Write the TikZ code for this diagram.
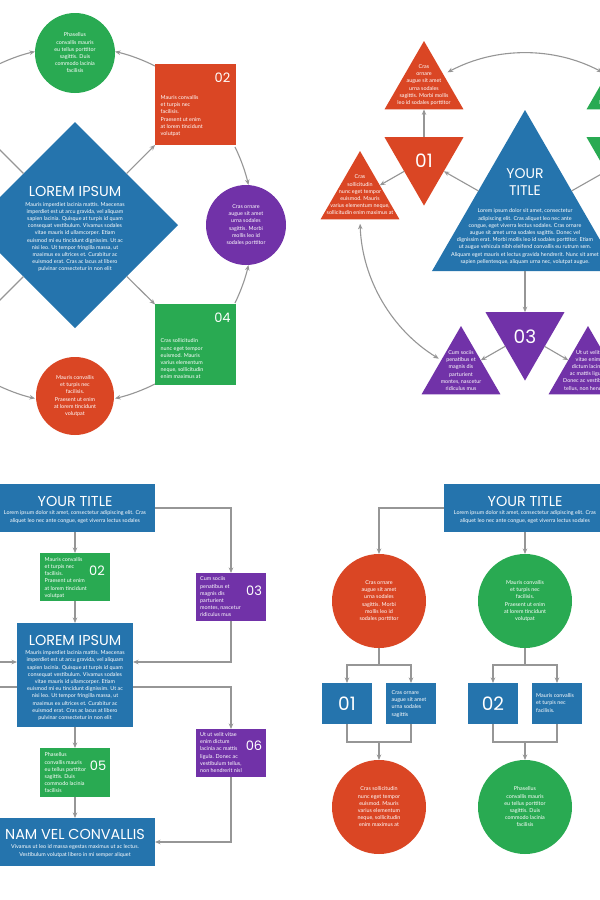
\documentclass[tikz,border=0pt]{standalone}
\usepackage{fontspec}
\setmainfont{Lato}
\newfontfamily\ttlfont{Poppins}
\usetikzlibrary{arrows.meta,shapes.geometric}
\definecolor{cblue}{RGB}{37,116,173}
\definecolor{cred}{RGB}{218,70,36}
\definecolor{cgreen}{RGB}{41,170,82}
\definecolor{cpurple}{RGB}{113,50,168}
\definecolor{cgray}{RGB}{150,150,150}
\tikzset{
  body/.style={text=white, font=\fontsize{5.4}{7.2}\selectfont, inner sep=0pt, align=center},
  bodyl/.style={body, align=left, anchor=west},
  ttl/.style={text=white, font=\ttlfont\fontsize{14.4}{17}\selectfont, inner sep=0pt, align=center},
  num/.style={text=white, font=\ttlfont\fontsize{13}{13}\selectfont, inner sep=0pt},
  bignum/.style={text=white, font=\ttlfont\fontsize{18.5}{18.5}\selectfont, inner sep=0pt},
  conn/.style={draw=cgray, line width=1.1pt, -{Stealth[length=5.5pt,width=4.5pt]}},
  bconn/.style={draw=cgray, line width=1.1pt, {Stealth[length=5.5pt,width=4.5pt]}-{Stealth[length=5.5pt,width=4.5pt]}},
  plain/.style={draw=cgray, line width=1.1pt},
  disc/.style={circle, inner sep=0pt, outer sep=0pt, minimum size=#1},
  box/.style 2 args={rectangle, inner sep=0pt, outer sep=0pt, minimum width=#1, minimum height=#2},
  tri/.style={regular polygon, regular polygon sides=3, inner sep=0pt, outer sep=0pt, minimum size=#1},
  itri/.style={tri=#1, shape border rotate=180},
}
\begin{document}
\begin{tikzpicture}[x=1pt,y=-1pt]
\useasboundingbox (0,0) rectangle (600,900);
\clip (0,0) rectangle (600,900);
\fill[white] (0,0) rectangle (600,900);

% ================= top-left: ring around a diamond
\coordinate (ringA) at (75,225);
\draw[conn] ([shift={(-63:178)}]ringA) arc[start angle=-63, end angle=-77, radius=178];
\draw[conn] ([shift={(-26:178)}]ringA) arc[start angle=-26, end angle=-13, radius=178];
\draw[conn] ([shift={(26:178)}]ringA) arc[start angle=26, end angle=13, radius=178];
\draw[conn] ([shift={(63:178)}]ringA) arc[start angle=63, end angle=77, radius=178];
\draw[conn] ([shift={(-117:178)}]ringA) arc[start angle=-117, end angle=-103, radius=178];
\draw[conn] ([shift={(117:178)}]ringA) arc[start angle=117, end angle=103, radius=178];

\node[disc=80, fill=cgreen, body] (gc) at (75,53) {Phasellus\\convallis mauris\\eu tellus porttitor\\sagittis. Duis\\commodo lacinia\\facilisis};
\node[disc=80, fill=cpurple, body] (pc) at (246,225) {Cras ornare\\augue sit amet\\urna sodales\\sagittis. Morbi\\mollis leo id\\sodales porttitor};
\node[disc=78, fill=cred, body] (rc) at (75,396) {Mauris convallis\\et turpis nec\\facilisis.\\Praesent ut enim\\at lorem tincidunt\\volutpat};
\node[box={81}{81}, fill=cred] (s02) at (195.5,104.5) {};
\node[num] (n02) at (222.5,78) {02};
\node[bodyl] (t02) at (160.5,116) {Mauris convallis\\et turpis nec\\facilisis.\\Praesent ut enim\\at lorem tincidunt\\volutpat};
\node[box={81}{81}, fill=cgreen] (s04) at (195.5,344.5) {};
\node[num] (n04) at (222.5,318) {04};
\node[bodyl] (t04) at (160.5,359) {Cras sollicitudin\\nunc eget tempor\\euismod. Mauris\\varius elementum\\neque, sollicitudin\\enim maximus at};
\node[diamond, aspect=1, minimum width=206, minimum height=206, inner sep=0pt, outer sep=0pt, fill=cblue] (dm) at (75,225) {};
\node[ttl] (dmt) at (75,191) {LOREM IPSUM};
\node[body] (dmp) at (75,237) {Mauris imperdiet lacinia mattis. Maecenas\\imperdiet est ut arcu gravida, vel aliquam\\sapien lacinia. Quisque at turpis id quam\\consequat vestibulum. Vivamus sodales\\vitae mauris id ullamcorper. Etiam\\euismod mi eu tincidunt dignissim. Ut ac\\nisi leo. Ut tempor fringilla massa, ut\\maximus ex ultrices et. Curabitur ac\\euismod erat. Cras ac lacus at libero\\pulvinar consectetur in non elit};
\coordinate (sq8) at (-5.5,144.5);
\coordinate (sq6) at (-5.5,305.5);
\draw[conn] (dm) -- (s02);
\draw[conn] (dm) -- (s04);
\draw[conn] (dm) -- (sq8);
\draw[conn] (dm) -- (sq6);

% ================= top-right: triangles
\coordinate (ringB) at (525,218);
\draw[bconn] ([shift={(-62:165)}]ringB) arc[start angle=-62, end angle=-118, radius=165];
\draw[bconn] ([shift={(178:165)}]ringB) arc[start angle=178, end angle=121.5, radius=165];

\node[tri=214.8, fill=cblue] (big) at (525,217.4) {};
\node[ttl, font=\ttlfont\fontsize{14}{17}\selectfont] (bigt) at (525,182) {YOUR\\TITLE};
\node[body] (bigp) at (525,236.5) {Lorem ipsum dolor sit amet, consectetur\\adipiscing elit. Cras aliquet leo nec ante\\congue, eget viverra lectus sodales. Cras ornare\\augue sit amet urna sodales sagittis. Donec vel\\dignissim erat. Morbi mollis leo id sodales porttitor. Etiam\\ut augue vehicula nibh eleifend convallis eu rutrum sem.\\Aliquam eget mauris et lectus gravida hendrerit. Nunc sit amet\\sapien pellentesque, aliquam urna nec, volutpat augue.};
\node[itri=91.2, fill=cred] (t01) at (424,160) {};
\node[bignum] (t01n) at (424,161) {01};
\node[tri=91.2, fill=cred] (ttop) at (424,86.6) {};
\node[body] (ttopt) at (424,85) {Cras\\ornare\\augue sit amet\\urna sodales\\sagittis. Morbi mollis\\leo id sodales porttitor};
\node[tri=91.2, fill=cred] (tleft) at (360,196.6) {};
\node[body] (tleftt) at (360,195) {Cras\\sollicitudin\\nunc eget tempor\\euismod. Mauris\\varius elementum neque,\\sollicitudin enim maximus at};
\node[itri=91.2, fill=cpurple] (t03) at (525,335) {};
\node[bignum] (t03n) at (525,337) {03};
\node[tri=91.2, fill=cpurple] (pl) at (461,371.6) {};
\node[body] (plt) at (461,370.5) {Cum sociis\\penatibus et\\magnis dis\\parturient\\montes, nascetur\\ridiculus mus};
\node[tri=91.2, fill=cpurple] (pr) at (588,371.6) {};
\node[body] (prt) at (588,370.5) {Ut ut velit\\vitae enim\\dictum lacinia\\ac mattis ligula.\\Donec ac vestibulum\\tellus, non hendrerit};
\node[itri=91.2, fill=cgreen] (g02) at (626,160) {};
\node[tri=91.2, fill=cgreen] (gtop) at (626,86.6) {};
\node[body] (gtopt) at (626,85) {Cras\\ornare\\augue sit amet\\urna sodales\\sagittis. Morbi mollis\\leo id sodales porttitor};
\draw[conn] (big) -- (t01);
\draw[conn] (t01) -- (ttop);
\draw[conn] (t01) -- (tleft);
\draw[conn] (big) -- (t03);
\draw[conn] (t03) -- (pl);
\draw[conn] (t03) -- (pr);
\draw[conn] (big) -- (g02);

% ================= bottom-left: boxes
\node[box={160}{48}, fill=cblue] (blt) at (75,508) {};
\node[ttl] (bltt) at (75,501) {YOUR TITLE};
\node[body] (bltp) at (75,517) {Lorem ipsum dolor sit amet, consectetur adipiscing elit. Cras\\aliquet leo nec ante congue, eget viverra lectus sodales};
\node[box={70}{48}, fill=cgreen] (b02) at (75,577) {};
\node[num] (b02n) at (97,571) {02};
\node[bodyl] (b02t) at (44.5,577.7) {Mauris convallis\\et turpis nec\\facilisis.\\Praesent ut enim\\at lorem tincidunt\\volutpat};
\node[box={116}{104}, fill=cblue] (blo) at (75,675) {};
\node[ttl] (blot) at (75,640) {LOREM IPSUM};
\node[body] (blop) at (75,685.5) {Mauris imperdiet lacinia mattis. Maecenas\\imperdiet est ut arcu gravida, vel aliquam\\sapien lacinia. Quisque at turpis id quam\\consequat vestibulum. Vivamus sodales\\vitae mauris id ullamcorper. Etiam\\euismod mi eu tincidunt dignissim. Ut ac\\nisi leo. Ut tempor fringilla massa, ut\\maximus ex ultrices et. Curabitur ac\\euismod erat. Cras ac lacus at libero\\pulvinar consectetur in non elit};
\node[box={70}{49}, fill=cgreen] (b05) at (75,772.5) {};
\node[num] (b05n) at (98,766) {05};
\node[bodyl] (b05t) at (44.5,773) {Phasellus\\convallis mauris\\eu tellus porttitor\\sagittis. Duis\\commodo lacinia\\facilisis};
\node[box={160}{48}, fill=cblue] (nam) at (75,842) {};
\node[ttl] (namt) at (75,834) {NAM VEL CONVALLIS};
\node[body] (namp) at (75,851) {Vivamus ut leo id massa egestas maximus ut ac lectus.\\Vestibulum volutpat libero in mi semper aliquet};
\node[box={70}{48}, fill=cpurple] (b03) at (231,597) {};
\node[num] (b03n) at (254,591) {03};
\node[bodyl] (b03t) at (200,597) {Cum sociis\\penatibus et\\magnis dis\\parturient\\montes, nascetur\\ridiculus mus};
\node[box={70}{48}, fill=cpurple] (b06) at (231,753) {};
\node[num] (b06n) at (254,746) {06};
\node[bodyl] (b06t) at (200,752.5) {Ut ut velit vitae\\enim dictum\\lacinia ac mattis\\ligula. Donec ac\\vestibulum tellus,\\non hendrerit nisl};
\coordinate (j1) at (231,662);
\coordinate (j2) at (231,687);
\coordinate (lin) at (-10,662);
\coordinate (lout) at (-10,687);
\draw[conn] (blt) -- (b02);
\draw[conn] (b02) -- (blo);
\draw[conn] (blo) -- (b05);
\draw[conn] (b05) -- (nam);
\draw[conn] (blt.east) -| (b03.north);
\draw[conn] (b03.south) -- (j1) -- (blo.east |- j1);
\draw[conn] (blo.east |- j2) -- (j2) -- (b06.north);
\draw[conn] (b06.south) |- (nam.east);
\draw[conn] (lin) -- (blo.west |- lin);
\draw[plain] (blo.west |- lout) -- (lout);

% ================= bottom-right: tree
\node[box={162}{48}, fill=cblue] (brt) at (525,508) {};
\node[ttl] (brtt) at (525,501) {YOUR TITLE};
\node[body] (brtp) at (525,517) {Lorem ipsum dolor sit amet, consectetur adipiscing elit. Cras\\aliquet leo nec ante congue, eget viverra lectus sodales};
\node[disc=94, fill=cred, body] (c1) at (379,601) {Cras ornare\\augue sit amet\\urna sodales\\sagittis. Morbi\\mollis leo id\\sodales porttitor};
\node[disc=94, fill=cgreen, body] (c2) at (525,601) {Mauris convallis\\et turpis nec\\facilisis.\\Praesent ut enim\\at lorem tincidunt\\volutpat};
\node[box={50}{41}, fill=cblue] (q1) at (347,703.5) {};
\node[bignum] (q1n) at (347,704) {01};
\node[box={50}{41}, fill=cblue] (q2) at (411,703.5) {};
\node[bodyl] (q2t) at (391.5,703.8) {Cras ornare\\augue sit amet\\urna sodales\\sagittis};
\node[box={50}{41}, fill=cblue] (q3) at (493,703.5) {};
\node[bignum] (q3n) at (493,704) {02};
\node[box={50}{41}, fill=cblue] (q4) at (557,703.5) {};
\node[bodyl] (q4t) at (536,703) {Mauris convallis\\et turpis nec\\facilisis.};
\node[disc=94, fill=cred, body] (c3) at (379,807) {Cras sollicitudin\\nunc eget tempor\\euismod. Mauris\\varius elementum\\neque, sollicitudin\\enim maximus at};
\node[disc=94, fill=cgreen, body] (c4) at (525,807) {Phasellus\\convallis mauris\\eu tellus porttitor\\sagittis. Duis\\commodo lacinia\\facilisis};
\coordinate (s1) at (379,665);
\coordinate (m1) at (379,742);
\coordinate (s2) at (525,665);
\coordinate (m2) at (525,742);
\draw[conn] (brt.west) -| (c1.north);
\draw[conn] (brt) -- (c2);
\draw[plain] (c1.south) -- (s1);
\draw[conn] (s1) -| (q1.north);
\draw[conn] (s1) -| (q2.north);
\draw[plain] (q1.south) |- (m1);
\draw[plain] (q2.south) |- (m1);
\draw[conn] (m1) -- (c3.north);
\draw[plain] (c2.south) -- (s2);
\draw[conn] (s2) -| (q3.north);
\draw[conn] (s2) -| (q4.north);
\draw[plain] (q3.south) |- (m2);
\draw[plain] (q4.south) |- (m2);
\draw[conn] (m2) -- (c4.north);
\end{tikzpicture}
\end{document}
